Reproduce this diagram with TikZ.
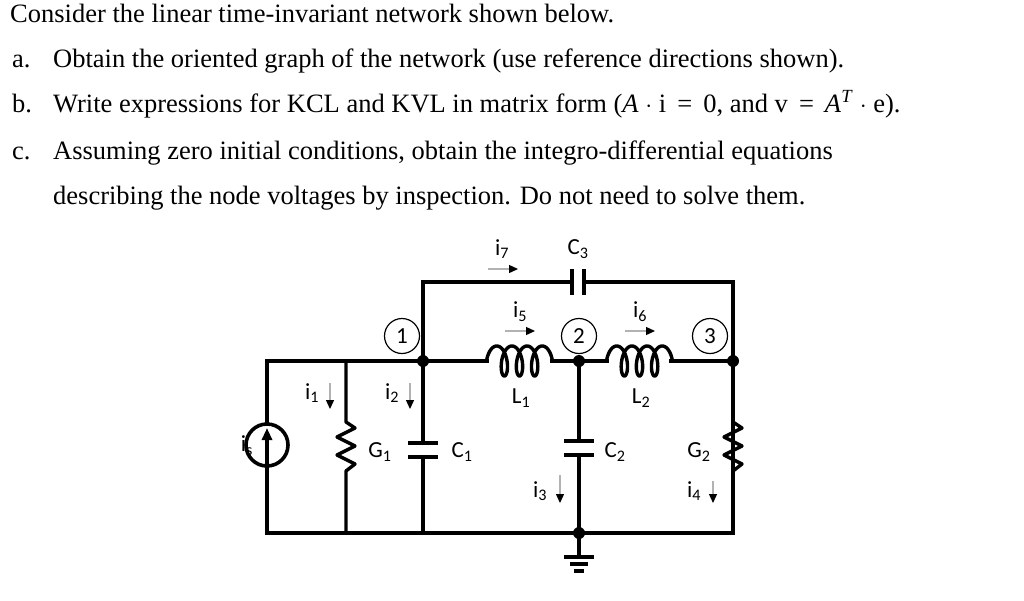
\documentclass[tikz,border=0pt]{standalone}
\usepackage{fontspec}
\setmainfont{Liberation Serif}
\newfontfamily\lab{Carlito}
\usetikzlibrary{arrows.meta}
\begin{document}
\begin{tikzpicture}[x=1pt,y=-1pt,
  w/.style={line width=3.4pt,line cap=rect},
  cur/.style={gray!60,line width=1.3pt,-{Triangle[black,length=9pt,width=8pt]}},
  txt/.style={anchor=base west,inner sep=0pt,font=\fontsize{26.5}{30}\selectfont},
  lb/.style={inner sep=0pt,font=\lab\fontsize{23}{25}\selectfont},
  nc/.style={circle,draw,line width=1.2pt,minimum size=35pt,inner sep=0pt,font=\lab\fontsize{23}{25}\selectfont},
  dot/.style={circle,fill,inner sep=0pt,minimum size=12pt}]
\useasboundingbox (0,0) rectangle (1024,600);
% text
\node[txt] (t0) at (10,22) {Consider the linear time-invariant network shown below.};
\node[txt] (ta) at (12,67) {a.};
\node[txt] (tab) at (53,67) {Obtain the oriented graph of the network (use reference directions shown).};
\node[txt] (tb) at (12,112) {b.};
\node[txt] (tbb) at (53,112) {Write expressions for KCL and KVL in matrix form (\textit{A} $\cdot$ i \,=\, 0, and v \,=\, \textit{A}\textsuperscript{\textit{T}} $\cdot$ e).};
\node[txt] (tc) at (12,159) {c.};
\node[txt] (tcb) at (53,159) {Assuming zero initial conditions, obtain the integro-differential equations};
\node[txt] (tcc) at (53,204) {describing the node voltages by inspection. Do not need to solve them.};
% coordinates
\coordinate (TL) at (423,282); \coordinate (TR) at (733,282);
\coordinate (C3a) at (572,282); \coordinate (C3b) at (584,282);
\coordinate (LL) at (267,361); \coordinate (G1t) at (346,361);
\node[dot] (n1) at (423,361) {}; \node[dot] (n2) at (579,361) {}; \node[dot] (n3) at (733,361) {};
\node[dot] (gnd) at (579,533) {};
\coordinate (BL) at (267,533); \coordinate (G1b) at (346,533); \coordinate (C1b) at (423,533); \coordinate (BR) at (733,533);
\coordinate (L1a) at (487,361); \coordinate (L1b) at (552,361);
\coordinate (L2a) at (607,361); \coordinate (L2b) at (671,361);
\node[circle,draw,line width=3.6pt,minimum size=42pt,inner sep=0pt] (src) at (267,445) {};
% wires
\draw[w] (n1) -- (TL) -- (C3a); \draw[w] (C3b) -- (TR) -- (n3);
\draw[w] (LL) -- (n1) -- (L1a); \draw[w] (L1b) -- (n2) -- (L2a); \draw[w] (L2b) -- (n3);
\draw[w] (LL) -- (src.north); \draw[w] (src.south) -- (BL) -- (BR) -- (n3);
\draw[w] (G1t) -- (LL);
\draw[w,-{Triangle[length=12pt,width=10pt]}] (267,463) -- (267,428);
% C3
\draw[w,line cap=butt,line width=4pt] (572,269) -- (572,295); \draw[w,line cap=butt,line width=4pt] (584,269) -- (584,295);
% G1
\draw[w,line join=round] (G1t) -- (346,422) -- (355,428) -- (337,437) -- (355,446) -- (337,455) -- (355,464) -- (346,471) -- (G1b);
% G2
\draw[w,line join=round] (n3) -- (733,422) -- (742,428) -- (724,437) -- (742,446) -- (724,455) -- (742,464) -- (733,471) -- (BR);
% C1
\draw[w] (n1) -- (423,443); \draw[w] (423,457) -- (C1b);
\draw[w,line cap=butt,line width=4pt] (408,443) -- (438,443); \draw[w,line cap=butt,line width=4pt] (408,457) -- (438,457);
% C2
\draw[w] (n2) -- (579,441); \draw[w] (579,455) -- (gnd);
\draw[w,line cap=butt,line width=4pt] (564,441) -- (594,441); \draw[w,line cap=butt,line width=4pt] (564,455) -- (594,455);
% inductors
\draw[w,line cap=round] plot[domain=90:1350,samples=240,smooth] ({489.2+2.41*rad(\x)-6.5*sin(\x)},{361+15*cos(\x)});
\draw[w,line cap=round] plot[domain=90:1350,samples=240,smooth] ({609.2+2.41*rad(\x)-6.5*sin(\x)},{361+15*cos(\x)});
% ground
\draw[w] (gnd) -- (579,557);
\draw[w,line cap=butt] (564,557) -- (594,557); \draw[w,line cap=butt] (570,564) -- (588,564); \draw[w,line cap=butt] (574,571) -- (584,571);
% node labels
\node[nc] (c1) at (402,336) {1}; \node[nc] (c2) at (579,336) {2}; \node[nc] (c3) at (710,336) {3};
% current arrows
\coordinate (a7s) at (488,269); \coordinate (a7e) at (518,269); \draw[cur] (a7s) -- (a7e);
\coordinate (a5s) at (505,331); \coordinate (a5e) at (535,331); \draw[cur] (a5s) -- (a5e);
\coordinate (a6s) at (625,331); \coordinate (a6e) at (655,331); \draw[cur] (a6s) -- (a6e);
\coordinate (a1s) at (330,383); \coordinate (a1e) at (330,409); \draw[cur] (a1s) -- (a1e);
\coordinate (a2s) at (410,383); \coordinate (a2e) at (410,409); \draw[cur] (a2s) -- (a2e);
\coordinate (a3s) at (560,475); \coordinate (a3e) at (560,503); \draw[cur] (a3s) -- (a3e);
\coordinate (a4s) at (713,481); \coordinate (a4e) at (713,503); \draw[cur] (a4s) -- (a4e);
% labels
\node[lb] (li7) at (502,249) {i\textsubscript{7}};
\node[lb] (lc3) at (578,249) {C\textsubscript{3}};
\node[lb] (li5) at (520,312) {i\textsubscript{5}};
\node[lb] (li6) at (640,312) {i\textsubscript{6}};
\node[lb] (ll1) at (521,398) {L\textsubscript{1}};
\node[lb] (ll2) at (641,398) {L\textsubscript{2}};
\node[lb] (li1) at (312,393) {i\textsubscript{1}};
\node[lb] (li2) at (392,393) {i\textsubscript{2}};
\node[lb] (lg1) at (380,452) {G\textsubscript{1}};
\node[lb] (lc1) at (462,452) {C\textsubscript{1}};
\node[lb] (lc2) at (615,452) {C\textsubscript{2}};
\node[lb] (lg2) at (699,452) {G\textsubscript{2}};
\node[lb] (li3) at (540,491) {i\textsubscript{3}};
\node[lb] (li4) at (694,491) {i\textsubscript{4}};
\node[lb] (lis) at (247,446) {i\textsubscript{s}};
\end{tikzpicture}
\end{document}
